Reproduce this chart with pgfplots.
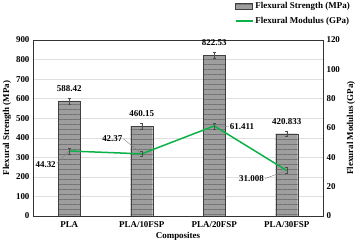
\documentclass[border=0pt]{standalone}
\usepackage{fontspec}
\setmainfont{Liberation Serif}
\usepackage{pgfplots}
\usepackage{pgfplotstable}
\pgfplotsset{compat=1.18}
\usetikzlibrary{patterns.meta,calc}
\definecolor{lgreen}{RGB}{10,178,72}
\definecolor{bargray}{RGB}{158,158,158}

\pgfplotstableread{
x y e lab
0 588.42 16 588.42
1 460.15 14 460.15
2 822.53 16 822.53
3 420.833 14 420.833
}\strength

\pgfplotstableread{
x y e
0 44.32 2.2
1 42.37 1.8
2 61.411 2.0
3 31.008 2.0
}\modulus

\begin{document}
\begin{tikzpicture}[font=\bfseries\fontsize{9}{10}\selectfont]
\begin{axis}[
  width=290bp, height=176bp, scale only axis,
  xmin=-0.5, xmax=3.5, ymin=0, ymax=900,
  xtick={0,1,2,3}, xticklabels={PLA,PLA/10FSP,PLA/20FSP,PLA/30FSP},
  ytick={0,100,...,900},
  major tick length=0,
  ymajorgrids, grid style={gray!25},
  axis line style={black!80},
  /pgf/number format/assume math mode=true,
  ticklabel style={font=\bfseries\fontsize{9}{10}\selectfont},
  xticklabel style={yshift=-2bp},
  ylabel={Flexural Strength (MPa)},
  xlabel={Composites},
  ylabel style={yshift=-2bp},
  xlabel style={yshift=2bp},
  legend style={at={(1.1,1.075)}, anchor=south east, draw=none, fill=none,
    font=\bfseries\fontsize{9}{10}\selectfont, row sep=3bp, inner sep=0pt},
  legend cell align=left,
]
\addplot[ybar, bar width=22bp, draw=black!75, fill=bargray,
  postaction={pattern={Lines[angle=0, distance=5bp, line width=0.7bp]}, pattern color=black!55},
  area legend,
  nodes near coords, point meta=explicit symbolic,
  nodes near coords style={anchor=south, yshift=6bp, font=\bfseries\fontsize{9}{10}\selectfont},
  error bars/.cd, y dir=both, y explicit, error bar style={black!70, thin}, error mark options={black!70, mark size=1.5bp, rotate=90}]
  table[x=x, y=y, y error=e, meta=lab]{\strength};
\addlegendentry{Flexural Strength (MPa)}
\addlegendimage{lgreen, line width=1.5bp}
\addlegendentry{Flexural Modulus (GPa)}
\coordinate (bl) at (rel axis cs:0,0);
\coordinate (tr) at (rel axis cs:1,1);
\end{axis}
\begin{axis}[
  width=290bp, height=176bp, scale only axis,
  xmin=-0.5, xmax=3.5, ymin=0, ymax=120,
  axis y line*=right, axis x line=none,
  ytick={0,20,...,120},
  major tick length=0,
  axis line style={black!80},
  /pgf/number format/assume math mode=true,
  ticklabel style={font=\bfseries\fontsize{9}{10}\selectfont},
  ylabel={Flexural Modulus (GPa)},
  ylabel style={yshift=0bp},
]
\addplot[lgreen, line width=1.5bp, mark=none,
  error bars/.cd, y dir=both, y explicit, error bar style={black!70, thin}, error mark options={black!70, mark size=1.5bp, rotate=90}]
  table[x=x, y=y, y error=e]{\modulus};
\draw[gray, thin] (axis cs:0,44.32) -- (axis cs:-0.17,36);
\node[anchor=east, inner sep=1bp] at (axis cs:-0.17,35) {44.32};
\draw[gray, thin] (axis cs:1,42.37) -- (axis cs:0.75,52.5);
\node[anchor=east, inner sep=1bp] at (axis cs:0.75,52.5) {42.37};
\draw[gray, thin] (axis cs:2,61.411) -- (axis cs:2.2,61);
\node[anchor=west, inner sep=1bp] at (axis cs:2.2,61) {61.411};
\draw[gray, thin] (axis cs:3,31.008) -- (axis cs:2.7,25.5);
\node[anchor=east, inner sep=1bp] at (axis cs:2.7,25.2) {31.008};
\end{axis}
\pgfresetboundingbox
\path[use as bounding box] ($(bl)+(-33bp,-28bp)$) rectangle ($(tr)+(33bp,40bp)$);
\end{tikzpicture}
\end{document}
